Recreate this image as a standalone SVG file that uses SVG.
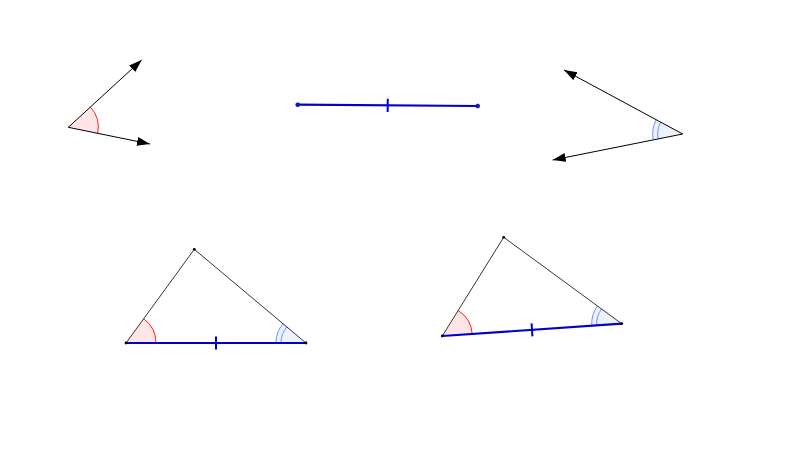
<svg xmlns="http://www.w3.org/2000/svg" width="789" height="467" viewBox="0 0 789 467">
<style>
.ray{stroke:#000;stroke-width:1;fill:none}
.side{stroke:#000;stroke-width:0.8;fill:none}
.seg{stroke:#0000cc;stroke-width:2.2;fill:none}
.tick{stroke:#0000cc;stroke-width:2;fill:none}
.ra{fill:#ff0000;fill-opacity:0.1;stroke:none}
.rs{fill:none;stroke:#ff2020;stroke-width:1}
.ba{fill:#0040ff;fill-opacity:0.07;stroke:none}
.bs{fill:none;stroke:#6d8eff;stroke-width:1}
.pt{fill:#000}
.bp{fill:#1a1a99;stroke:#0000cc;stroke-width:0.6}
</style>
<defs>
<marker id="ah" markerUnits="userSpaceOnUse" markerWidth="14" markerHeight="10" refX="13" refY="4.5" orient="auto">
<path d="M0,0 L13,4.5 L0,9 Z" fill="#000"/>
</marker>
</defs>
<rect width="789" height="467" fill="#fff"/>

<g id="angle-left">
<path class="ra" d="M68.3,127.3 L97.7,133.28 A30,30 0 0 0 90.28,106.88 Z"/>
<path class="rs" d="M97.7,133.28 A30,30 0 0 0 90.28,106.88"/>
<line class="ray" x1="68.3" y1="127.3" x2="141.7" y2="60" marker-end="url(#ah)"/>
<line class="ray" x1="68.3" y1="127.3" x2="150" y2="144" marker-end="url(#ah)"/>
</g>

<g id="segment">
<line class="seg" x1="297.7" y1="104.7" x2="477.7" y2="106"/>
<line class="tick" x1="387.75" y1="98.8" x2="387.65" y2="111.9"/>
<circle class="bp" cx="297.7" cy="104.7" r="2"/>
<circle class="bp" cx="477.7" cy="106" r="2"/>
</g>

<g id="angle-right">
<path class="ba" d="M682.7,134 L653.28,139.88 A30,30 0 0 1 656.29,119.76 Z"/>
<path class="bs" d="M653.28,139.88 A30,30 0 0 1 656.29,119.76"/>
<path class="bs" d="M658.18,138.9 A25,25 0 0 1 660.7,122.13"/>
<line class="ray" x1="682.7" y1="134" x2="564" y2="70" marker-end="url(#ah)"/>
<line class="ray" x1="682.7" y1="134" x2="552.7" y2="160" marker-end="url(#ah)"/>
</g>

<g id="triangle-1">
<path class="ra" d="M126,343 L156,343 A30,30 0 0 0 143.67,318.76 Z"/>
<path class="rs" d="M156,343 A30,30 0 0 0 143.67,318.76"/>
<path class="ba" d="M306,343 L276,343 A30,30 0 0 1 283.02,323.72 Z"/>
<path class="bs" d="M276,343 A30,30 0 0 1 283.02,323.72"/>
<path class="bs" d="M281,343 A25,25 0 0 1 286.85,326.93"/>
<polyline class="side" points="126,343 194.3,249.3 306,343"/>
<line class="seg" x1="126" y1="343" x2="306" y2="343"/>
<line class="tick" x1="216" y1="336.5" x2="216" y2="349.5"/>
<circle class="pt" cx="126" cy="343" r="1.4"/>
<circle class="pt" cx="306" cy="343" r="1.4"/>
<circle class="pt" cx="194.3" cy="249.3" r="1.4"/>
</g>

<g id="triangle-2">
<path class="ra" d="M442.3,336 L472.23,333.95 A30,30 0 0 0 458.15,310.53 Z"/>
<path class="rs" d="M472.23,333.95 A30,30 0 0 0 458.15,310.53"/>
<path class="ba" d="M621.7,323.7 L591.77,325.75 A30,30 0 0 1 597.5,305.98 Z"/>
<path class="bs" d="M591.77,325.75 A30,30 0 0 1 597.5,305.98"/>
<path class="bs" d="M596.76,325.41 A25,25 0 0 1 601.53,308.93"/>
<polyline class="side" points="442.3,336 503.7,237.3 621.7,323.7"/>
<line class="seg" x1="442.3" y1="336" x2="621.7" y2="323.7"/>
<line class="tick" x1="532.44" y1="336.34" x2="531.56" y2="323.36"/>
<circle class="pt" cx="442.3" cy="336" r="1.4"/>
<circle class="pt" cx="621.7" cy="323.7" r="1.4"/>
<circle class="pt" cx="503.7" cy="237.3" r="1.4"/>
</g>
</svg>
